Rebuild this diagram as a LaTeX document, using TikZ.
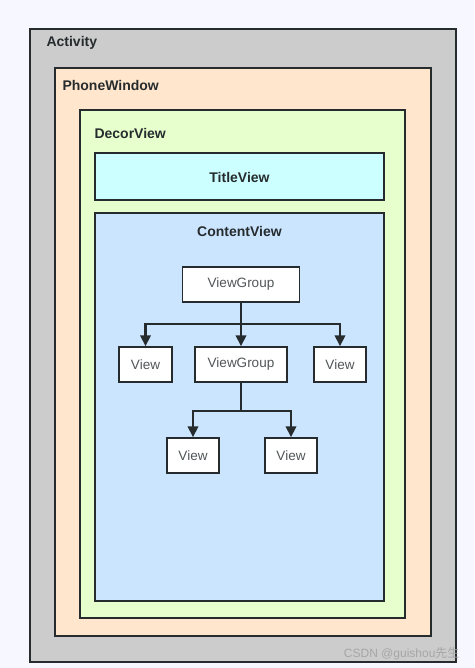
\documentclass[tikz,border=0pt]{standalone}
\usepackage{fontspec}
\setmainfont{Liberation Sans}
\newfontfamily\cjk{Noto Sans CJK SC}
\usetikzlibrary{arrows.meta}
\definecolor{actgray}{HTML}{CCCCCC}
\definecolor{winorange}{HTML}{FFE6CC}
\definecolor{decorgreen}{HTML}{E6FFCC}
\definecolor{titlecyan}{HTML}{CCFFFF}
\definecolor{contentblue}{HTML}{CCE5FF}
\definecolor{edge}{HTML}{262C2E}
\tikzset{
    layer/.style={draw=edge, line width=1.5pt},
    layertext/.style={anchor=west, text=edge, font=\fontsize{14}{16}\selectfont\bfseries},
    viewbox/.style={draw=edge, fill=white, line width=1.5pt, minimum height=35pt, inner sep=0pt, text=edge!80, font=\fontsize{13.5}{15}\selectfont},
    wire/.style={draw=edge, line width=2.2pt},
    tree/.style={wire, -{Triangle[length=11pt,width=10.5pt]}}
}
\begin{document}
\begin{tikzpicture}[x=1pt, y=-1pt]
    \fill[white!97!blue] (0,0) rectangle (474,668);
    \useasboundingbox (0,0) rectangle (474,668);
    % nested layers
    \draw[layer, fill=actgray] (30,29) rectangle (456,662);
    \node[layertext] (act) at (43,43) {Activity};
    \draw[layer, fill=winorange] (55,68) rectangle (431,636);
    \node[layertext] (win) at (59,85) {PhoneWindow};
    \draw[layer, fill=decorgreen] (80,110) rectangle (405,618);
    \node[layertext] (decor) at (91,133) {DecorView};
    \draw[layer, fill=titlecyan] (95,153) rectangle (384,200);
    \node[text=edge, font=\fontsize{14}{16}\selectfont\bfseries] (title) at (239.5,177) {TitleView};
    \draw[layer, fill=contentblue] (95,213) rectangle (384,601);
    \node[text=edge, font=\fontsize{14}{16}\selectfont\bfseries] (content) at (239.5,231) {ContentView};
    % view tree
    \node[viewbox, minimum width=117pt] (vg) at (241,284.5) {ViewGroup};
    \node[viewbox, minimum width=53pt] (vleft) at (145.5,364.5) {View};
    \node[viewbox, minimum width=92pt] (vgmid) at (241,364.5) {ViewGroup};
    \node[viewbox, minimum width=52pt] (vright) at (340,364.5) {View};
    \node[viewbox, minimum width=52pt] (vbl) at (193,455.5) {View};
    \node[viewbox, minimum width=52pt] (vbr) at (291,455.5) {View};
    \coordinate (fork1) at (241,324);
    \coordinate (fork2) at (241,411);
    \draw[wire] (vg.south) -- (fork1);
    \draw[tree] (fork1) -- (vgmid.north);
    \draw[tree] (fork1) -| (vleft.north);
    \draw[tree] (fork1) -| (vright.north);
    \draw[wire] (vgmid.south) -- (fork2);
    \draw[tree] (fork2) -| (vbl.north);
    \draw[tree] (fork2) -| (vbr.north);
    \node[anchor=east, text=black!35, font=\fontsize{12}{14}\selectfont] (mark) at (463,654) {CSDN @guishou{\cjk 先生}};
\end{tikzpicture}
\end{document}
